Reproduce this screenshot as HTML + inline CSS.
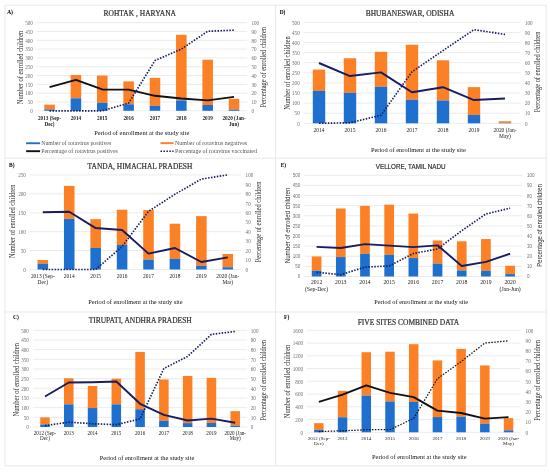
<!DOCTYPE html>
<html><head><meta charset="utf-8"><style>
html,body{margin:0;padding:0;background:#fff;width:550px;height:472px;overflow:hidden}
svg{display:block;will-change:transform;filter:blur(0.3px)}
</style></head><body>
<svg width="550" height="472" viewBox="0 0 550 472">
<rect width="550" height="472" fill="#fff"/>
<line x1="36.40" y1="110.80" x2="247.20" y2="110.80" stroke="#e6e6e6" stroke-width="0.8" />
<text x="32.90" y="113.04" font-size="5.1" fill="#707070" text-anchor="end" font-family='"Liberation Serif", serif'>0</text>
<line x1="36.40" y1="101.99" x2="247.20" y2="101.99" stroke="#e6e6e6" stroke-width="0.8" />
<text x="32.90" y="104.23" font-size="5.1" fill="#707070" text-anchor="end" font-family='"Liberation Serif", serif'>50</text>
<line x1="36.40" y1="93.17" x2="247.20" y2="93.17" stroke="#e6e6e6" stroke-width="0.8" />
<text x="32.90" y="95.42" font-size="5.1" fill="#707070" text-anchor="end" font-family='"Liberation Serif", serif'>100</text>
<line x1="36.40" y1="84.36" x2="247.20" y2="84.36" stroke="#e6e6e6" stroke-width="0.8" />
<text x="32.90" y="86.60" font-size="5.1" fill="#707070" text-anchor="end" font-family='"Liberation Serif", serif'>150</text>
<line x1="36.40" y1="75.54" x2="247.20" y2="75.54" stroke="#e6e6e6" stroke-width="0.8" />
<text x="32.90" y="77.79" font-size="5.1" fill="#707070" text-anchor="end" font-family='"Liberation Serif", serif'>200</text>
<line x1="36.40" y1="66.73" x2="247.20" y2="66.73" stroke="#e6e6e6" stroke-width="0.8" />
<text x="32.90" y="68.97" font-size="5.1" fill="#707070" text-anchor="end" font-family='"Liberation Serif", serif'>250</text>
<line x1="36.40" y1="57.92" x2="247.20" y2="57.92" stroke="#e6e6e6" stroke-width="0.8" />
<text x="32.90" y="60.16" font-size="5.1" fill="#707070" text-anchor="end" font-family='"Liberation Serif", serif'>300</text>
<line x1="36.40" y1="49.10" x2="247.20" y2="49.10" stroke="#e6e6e6" stroke-width="0.8" />
<text x="32.90" y="51.35" font-size="5.1" fill="#707070" text-anchor="end" font-family='"Liberation Serif", serif'>350</text>
<line x1="36.40" y1="40.29" x2="247.20" y2="40.29" stroke="#e6e6e6" stroke-width="0.8" />
<text x="32.90" y="42.53" font-size="5.1" fill="#707070" text-anchor="end" font-family='"Liberation Serif", serif'>400</text>
<line x1="36.40" y1="31.47" x2="247.20" y2="31.47" stroke="#e6e6e6" stroke-width="0.8" />
<text x="32.90" y="33.72" font-size="5.1" fill="#707070" text-anchor="end" font-family='"Liberation Serif", serif'>450</text>
<line x1="36.40" y1="22.66" x2="247.20" y2="22.66" stroke="#e6e6e6" stroke-width="0.8" />
<text x="32.90" y="24.90" font-size="5.1" fill="#707070" text-anchor="end" font-family='"Liberation Serif", serif'>500</text>
<text x="251.50" y="113.04" font-size="5.1" fill="#707070" text-anchor="start" font-family='"Liberation Serif", serif'>0</text>
<text x="251.50" y="104.23" font-size="5.1" fill="#707070" text-anchor="start" font-family='"Liberation Serif", serif'>10</text>
<text x="251.50" y="95.42" font-size="5.1" fill="#707070" text-anchor="start" font-family='"Liberation Serif", serif'>20</text>
<text x="251.50" y="86.60" font-size="5.1" fill="#707070" text-anchor="start" font-family='"Liberation Serif", serif'>30</text>
<text x="251.50" y="77.79" font-size="5.1" fill="#707070" text-anchor="start" font-family='"Liberation Serif", serif'>40</text>
<text x="251.50" y="68.97" font-size="5.1" fill="#707070" text-anchor="start" font-family='"Liberation Serif", serif'>50</text>
<text x="251.50" y="60.16" font-size="5.1" fill="#707070" text-anchor="start" font-family='"Liberation Serif", serif'>60</text>
<text x="251.50" y="51.35" font-size="5.1" fill="#707070" text-anchor="start" font-family='"Liberation Serif", serif'>70</text>
<text x="251.50" y="42.53" font-size="5.1" fill="#707070" text-anchor="start" font-family='"Liberation Serif", serif'>80</text>
<text x="251.50" y="33.72" font-size="5.1" fill="#707070" text-anchor="start" font-family='"Liberation Serif", serif'>90</text>
<text x="251.50" y="24.90" font-size="5.1" fill="#707070" text-anchor="start" font-family='"Liberation Serif", serif'>100</text>
<rect x="44.30" y="104.63" width="10.54" height="4.76" fill="#fb8026"/>
<rect x="44.30" y="109.39" width="10.54" height="1.41" fill="#1f6fcf"/>
<rect x="70.66" y="75.02" width="10.54" height="23.27" fill="#fb8026"/>
<rect x="70.66" y="98.28" width="10.54" height="12.52" fill="#1f6fcf"/>
<rect x="97.01" y="75.54" width="10.54" height="27.32" fill="#fb8026"/>
<rect x="97.01" y="102.87" width="10.54" height="7.93" fill="#1f6fcf"/>
<rect x="123.36" y="81.36" width="10.54" height="22.92" fill="#fb8026"/>
<rect x="123.36" y="104.28" width="10.54" height="6.52" fill="#1f6fcf"/>
<rect x="149.70" y="77.84" width="10.54" height="28.03" fill="#fb8026"/>
<rect x="149.70" y="105.86" width="10.54" height="4.94" fill="#1f6fcf"/>
<rect x="176.05" y="34.82" width="10.54" height="65.58" fill="#fb8026"/>
<rect x="176.05" y="100.40" width="10.54" height="10.40" fill="#1f6fcf"/>
<rect x="202.40" y="59.68" width="10.54" height="45.30" fill="#fb8026"/>
<rect x="202.40" y="104.98" width="10.54" height="5.82" fill="#1f6fcf"/>
<rect x="228.75" y="98.81" width="10.54" height="10.75" fill="#fb8026"/>
<rect x="228.75" y="109.57" width="10.54" height="1.23" fill="#1f6fcf"/>
<polyline points="49.57,87.18 75.92,79.95 102.28,89.47 128.62,89.65 154.97,95.82 181.32,98.46 207.67,100.40 234.02,96.87" fill="none" stroke="#111111" stroke-width="1.9" stroke-linejoin="round" />
<polyline points="49.57,110.80 75.92,110.80 102.28,110.80 128.62,103.13 154.97,60.56 181.32,49.10 207.67,31.30 234.02,30.15" fill="none" stroke="#161d60" stroke-width="1.65" stroke-linejoin="round" stroke-dasharray="1.5 1.45"/>
<text x="49.57" y="119.90" font-size="5.2" fill="#222222" text-anchor="middle" font-family='"Liberation Serif", serif' font-weight="bold">2013 (Sep-</text>
<text x="49.57" y="125.70" font-size="5.2" fill="#222222" text-anchor="middle" font-family='"Liberation Serif", serif' font-weight="bold">Dec)</text>
<text x="75.92" y="119.90" font-size="5.2" fill="#222222" text-anchor="middle" font-family='"Liberation Serif", serif' font-weight="bold">2014</text>
<text x="102.28" y="119.90" font-size="5.2" fill="#222222" text-anchor="middle" font-family='"Liberation Serif", serif' font-weight="bold">2015</text>
<text x="128.62" y="119.90" font-size="5.2" fill="#222222" text-anchor="middle" font-family='"Liberation Serif", serif' font-weight="bold">2016</text>
<text x="154.97" y="119.90" font-size="5.2" fill="#222222" text-anchor="middle" font-family='"Liberation Serif", serif' font-weight="bold">2017</text>
<text x="181.32" y="119.90" font-size="5.2" fill="#222222" text-anchor="middle" font-family='"Liberation Serif", serif' font-weight="bold">2018</text>
<text x="207.67" y="119.90" font-size="5.2" fill="#222222" text-anchor="middle" font-family='"Liberation Serif", serif' font-weight="bold">2019</text>
<text x="234.02" y="119.90" font-size="5.2" fill="#222222" text-anchor="middle" font-family='"Liberation Serif", serif' font-weight="bold">2020 (Jan-</text>
<text x="234.02" y="125.70" font-size="5.2" fill="#222222" text-anchor="middle" font-family='"Liberation Serif", serif' font-weight="bold">Jun)</text>
<text x="22.60" y="67.50" font-size="7.2" fill="#2a2a2a" text-anchor="middle" font-family='"Liberation Serif", serif' textLength="73.40" lengthAdjust="spacingAndGlyphs" transform="rotate(-90 22.60 67.50)">Number of enrolled children</text>
<text x="266.20" y="67.30" font-size="7.2" fill="#2a2a2a" text-anchor="middle" font-family='"Liberation Serif", serif' textLength="80.60" lengthAdjust="spacingAndGlyphs" transform="rotate(-90 266.20 67.30)">Percentage of enrolled children</text>
<text x="141.75" y="134.60" font-size="7.1" fill="#111111" text-anchor="middle" font-family='"Liberation Serif", serif' textLength="95.10" lengthAdjust="spacingAndGlyphs">Period of enrollment at the study site</text>
<text x="139.75" y="15.60" font-size="7.5" fill="#303030" text-anchor="middle" font-family='"Liberation Serif", serif' stroke="#303030" stroke-width="0.2" textLength="72.50" lengthAdjust="spacingAndGlyphs">ROHTAK , HARYANA</text>
<text x="6.90" y="13.70" font-size="5.8" fill="#000000" text-anchor="start" font-family='"Liberation Serif", serif' font-weight="bold">A)</text>
<line x1="303.50" y1="123.30" x2="520.50" y2="123.30" stroke="#e6e6e6" stroke-width="0.8" />
<text x="299.70" y="125.54" font-size="5.1" fill="#707070" text-anchor="end" font-family='"Liberation Serif", serif'>0</text>
<line x1="303.50" y1="113.20" x2="520.50" y2="113.20" stroke="#e6e6e6" stroke-width="0.8" />
<text x="299.70" y="115.44" font-size="5.1" fill="#707070" text-anchor="end" font-family='"Liberation Serif", serif'>50</text>
<line x1="303.50" y1="103.10" x2="520.50" y2="103.10" stroke="#e6e6e6" stroke-width="0.8" />
<text x="299.70" y="105.34" font-size="5.1" fill="#707070" text-anchor="end" font-family='"Liberation Serif", serif'>100</text>
<line x1="303.50" y1="93.00" x2="520.50" y2="93.00" stroke="#e6e6e6" stroke-width="0.8" />
<text x="299.70" y="95.24" font-size="5.1" fill="#707070" text-anchor="end" font-family='"Liberation Serif", serif'>150</text>
<line x1="303.50" y1="82.90" x2="520.50" y2="82.90" stroke="#e6e6e6" stroke-width="0.8" />
<text x="299.70" y="85.14" font-size="5.1" fill="#707070" text-anchor="end" font-family='"Liberation Serif", serif'>200</text>
<line x1="303.50" y1="72.80" x2="520.50" y2="72.80" stroke="#e6e6e6" stroke-width="0.8" />
<text x="299.70" y="75.04" font-size="5.1" fill="#707070" text-anchor="end" font-family='"Liberation Serif", serif'>250</text>
<line x1="303.50" y1="62.70" x2="520.50" y2="62.70" stroke="#e6e6e6" stroke-width="0.8" />
<text x="299.70" y="64.94" font-size="5.1" fill="#707070" text-anchor="end" font-family='"Liberation Serif", serif'>300</text>
<line x1="303.50" y1="52.60" x2="520.50" y2="52.60" stroke="#e6e6e6" stroke-width="0.8" />
<text x="299.70" y="54.84" font-size="5.1" fill="#707070" text-anchor="end" font-family='"Liberation Serif", serif'>350</text>
<line x1="303.50" y1="42.50" x2="520.50" y2="42.50" stroke="#e6e6e6" stroke-width="0.8" />
<text x="299.70" y="44.74" font-size="5.1" fill="#707070" text-anchor="end" font-family='"Liberation Serif", serif'>400</text>
<line x1="303.50" y1="32.40" x2="520.50" y2="32.40" stroke="#e6e6e6" stroke-width="0.8" />
<text x="299.70" y="34.64" font-size="5.1" fill="#707070" text-anchor="end" font-family='"Liberation Serif", serif'>450</text>
<line x1="303.50" y1="22.30" x2="520.50" y2="22.30" stroke="#e6e6e6" stroke-width="0.8" />
<text x="299.70" y="24.54" font-size="5.1" fill="#707070" text-anchor="end" font-family='"Liberation Serif", serif'>500</text>
<text x="525.00" y="125.54" font-size="5.1" fill="#707070" text-anchor="start" font-family='"Liberation Serif", serif'>0</text>
<text x="525.00" y="115.44" font-size="5.1" fill="#707070" text-anchor="start" font-family='"Liberation Serif", serif'>10</text>
<text x="525.00" y="105.34" font-size="5.1" fill="#707070" text-anchor="start" font-family='"Liberation Serif", serif'>20</text>
<text x="525.00" y="95.24" font-size="5.1" fill="#707070" text-anchor="start" font-family='"Liberation Serif", serif'>30</text>
<text x="525.00" y="85.14" font-size="5.1" fill="#707070" text-anchor="start" font-family='"Liberation Serif", serif'>40</text>
<text x="525.00" y="75.04" font-size="5.1" fill="#707070" text-anchor="start" font-family='"Liberation Serif", serif'>50</text>
<text x="525.00" y="64.94" font-size="5.1" fill="#707070" text-anchor="start" font-family='"Liberation Serif", serif'>60</text>
<text x="525.00" y="54.84" font-size="5.1" fill="#707070" text-anchor="start" font-family='"Liberation Serif", serif'>70</text>
<text x="525.00" y="44.74" font-size="5.1" fill="#707070" text-anchor="start" font-family='"Liberation Serif", serif'>80</text>
<text x="525.00" y="34.64" font-size="5.1" fill="#707070" text-anchor="start" font-family='"Liberation Serif", serif'>90</text>
<text x="525.00" y="24.54" font-size="5.1" fill="#707070" text-anchor="start" font-family='"Liberation Serif", serif'>100</text>
<rect x="312.80" y="69.57" width="12.40" height="21.41" fill="#fb8026"/>
<rect x="312.80" y="90.98" width="12.40" height="32.32" fill="#1f6fcf"/>
<rect x="343.80" y="58.26" width="12.40" height="34.54" fill="#fb8026"/>
<rect x="343.80" y="92.80" width="12.40" height="30.50" fill="#1f6fcf"/>
<rect x="374.80" y="51.79" width="12.40" height="34.95" fill="#fb8026"/>
<rect x="374.80" y="86.74" width="12.40" height="36.56" fill="#1f6fcf"/>
<rect x="405.80" y="44.72" width="12.40" height="54.94" fill="#fb8026"/>
<rect x="405.80" y="99.67" width="12.40" height="23.63" fill="#1f6fcf"/>
<rect x="436.80" y="60.28" width="12.40" height="40.20" fill="#fb8026"/>
<rect x="436.80" y="100.47" width="12.40" height="22.83" fill="#1f6fcf"/>
<rect x="467.80" y="87.14" width="12.40" height="27.88" fill="#fb8026"/>
<rect x="467.80" y="115.02" width="12.40" height="8.28" fill="#1f6fcf"/>
<rect x="498.80" y="121.28" width="12.40" height="1.62" fill="#fb8026"/>
<rect x="498.80" y="122.90" width="12.40" height="0.40" fill="#1f6fcf"/>
<polyline points="319.00,63.00 350.00,76.03 381.00,72.40 412.00,92.29 443.00,87.24 474.00,100.07 505.00,98.45" fill="none" stroke="#161d60" stroke-width="1.9" stroke-linejoin="round" />
<polyline points="319.00,123.30 350.00,122.80 381.00,115.22 412.00,71.79 443.00,50.58 474.00,29.67 505.00,34.42" fill="none" stroke="#161d60" stroke-width="1.65" stroke-linejoin="round" stroke-dasharray="1.5 1.45"/>
<text x="319.00" y="131.90" font-size="5.45" fill="#222222" text-anchor="middle" font-family='"Liberation Serif", serif'>2014</text>
<text x="350.00" y="131.90" font-size="5.45" fill="#222222" text-anchor="middle" font-family='"Liberation Serif", serif'>2015</text>
<text x="381.00" y="131.90" font-size="5.45" fill="#222222" text-anchor="middle" font-family='"Liberation Serif", serif'>2016</text>
<text x="412.00" y="131.90" font-size="5.45" fill="#222222" text-anchor="middle" font-family='"Liberation Serif", serif'>2017</text>
<text x="443.00" y="131.90" font-size="5.45" fill="#222222" text-anchor="middle" font-family='"Liberation Serif", serif'>2018</text>
<text x="474.00" y="131.90" font-size="5.45" fill="#222222" text-anchor="middle" font-family='"Liberation Serif", serif'>2019</text>
<text x="505.00" y="131.90" font-size="5.45" fill="#222222" text-anchor="middle" font-family='"Liberation Serif", serif'>2020 (Jan-</text>
<text x="505.00" y="137.70" font-size="5.45" fill="#222222" text-anchor="middle" font-family='"Liberation Serif", serif'>May)</text>
<text x="289.80" y="73.00" font-size="7.2" fill="#2a2a2a" text-anchor="middle" font-family='"Liberation Serif", serif' textLength="73.40" lengthAdjust="spacingAndGlyphs" transform="rotate(-90 289.80 73.00)">Number of enrolled children</text>
<text x="539.70" y="71.90" font-size="7.2" fill="#2a2a2a" text-anchor="middle" font-family='"Liberation Serif", serif' textLength="80.60" lengthAdjust="spacingAndGlyphs" transform="rotate(-90 539.70 71.90)">Percentage of enrolled children</text>
<text x="418.35" y="151.60" font-size="7.1" fill="#111111" text-anchor="middle" font-family='"Liberation Serif", serif' textLength="94.90" lengthAdjust="spacingAndGlyphs">Period of enrollment at the study site</text>
<text x="410.00" y="15.90" font-size="7.5" fill="#303030" text-anchor="middle" font-family='"Liberation Serif", serif' stroke="#303030" stroke-width="0.2" textLength="88.60" lengthAdjust="spacingAndGlyphs">BHUBANESWAR, ODISHA</text>
<text x="279.70" y="13.80" font-size="5.4" fill="#000000" text-anchor="start" font-family='"Liberation Serif", serif' font-weight="bold">D)</text>
<line x1="29.60" y1="269.50" x2="241.00" y2="269.50" stroke="#e6e6e6" stroke-width="0.8" />
<text x="25.80" y="271.74" font-size="5.1" fill="#707070" text-anchor="end" font-family='"Liberation Serif", serif'>0</text>
<line x1="29.60" y1="250.58" x2="241.00" y2="250.58" stroke="#e6e6e6" stroke-width="0.8" />
<text x="25.80" y="252.82" font-size="5.1" fill="#707070" text-anchor="end" font-family='"Liberation Serif", serif'>50</text>
<line x1="29.60" y1="231.66" x2="241.00" y2="231.66" stroke="#e6e6e6" stroke-width="0.8" />
<text x="25.80" y="233.90" font-size="5.1" fill="#707070" text-anchor="end" font-family='"Liberation Serif", serif'>100</text>
<line x1="29.60" y1="212.74" x2="241.00" y2="212.74" stroke="#e6e6e6" stroke-width="0.8" />
<text x="25.80" y="214.98" font-size="5.1" fill="#707070" text-anchor="end" font-family='"Liberation Serif", serif'>150</text>
<line x1="29.60" y1="193.82" x2="241.00" y2="193.82" stroke="#e6e6e6" stroke-width="0.8" />
<text x="25.80" y="196.06" font-size="5.1" fill="#707070" text-anchor="end" font-family='"Liberation Serif", serif'>200</text>
<line x1="29.60" y1="174.90" x2="241.00" y2="174.90" stroke="#e6e6e6" stroke-width="0.8" />
<text x="25.80" y="177.14" font-size="5.1" fill="#707070" text-anchor="end" font-family='"Liberation Serif", serif'>250</text>
<text x="245.60" y="271.74" font-size="5.1" fill="#707070" text-anchor="start" font-family='"Liberation Serif", serif'>0</text>
<text x="245.60" y="262.28" font-size="5.1" fill="#707070" text-anchor="start" font-family='"Liberation Serif", serif'>10</text>
<text x="245.60" y="252.82" font-size="5.1" fill="#707070" text-anchor="start" font-family='"Liberation Serif", serif'>20</text>
<text x="245.60" y="243.36" font-size="5.1" fill="#707070" text-anchor="start" font-family='"Liberation Serif", serif'>30</text>
<text x="245.60" y="233.90" font-size="5.1" fill="#707070" text-anchor="start" font-family='"Liberation Serif", serif'>40</text>
<text x="245.60" y="224.44" font-size="5.1" fill="#707070" text-anchor="start" font-family='"Liberation Serif", serif'>50</text>
<text x="245.60" y="214.98" font-size="5.1" fill="#707070" text-anchor="start" font-family='"Liberation Serif", serif'>60</text>
<text x="245.60" y="205.52" font-size="5.1" fill="#707070" text-anchor="start" font-family='"Liberation Serif", serif'>70</text>
<text x="245.60" y="196.06" font-size="5.1" fill="#707070" text-anchor="start" font-family='"Liberation Serif", serif'>80</text>
<text x="245.60" y="186.60" font-size="5.1" fill="#707070" text-anchor="start" font-family='"Liberation Serif", serif'>90</text>
<text x="245.60" y="177.14" font-size="5.1" fill="#707070" text-anchor="start" font-family='"Liberation Serif", serif'>100</text>
<rect x="37.53" y="260.04" width="10.57" height="3.78" fill="#fb8026"/>
<rect x="37.53" y="263.82" width="10.57" height="5.68" fill="#1f6fcf"/>
<rect x="63.95" y="185.87" width="10.57" height="32.92" fill="#fb8026"/>
<rect x="63.95" y="218.79" width="10.57" height="50.71" fill="#1f6fcf"/>
<rect x="90.38" y="219.17" width="10.57" height="28.76" fill="#fb8026"/>
<rect x="90.38" y="247.93" width="10.57" height="21.57" fill="#1f6fcf"/>
<rect x="116.80" y="209.71" width="10.57" height="35.19" fill="#fb8026"/>
<rect x="116.80" y="244.90" width="10.57" height="24.60" fill="#1f6fcf"/>
<rect x="143.23" y="210.09" width="10.57" height="49.57" fill="#fb8026"/>
<rect x="143.23" y="259.66" width="10.57" height="9.84" fill="#1f6fcf"/>
<rect x="169.65" y="223.71" width="10.57" height="35.19" fill="#fb8026"/>
<rect x="169.65" y="258.90" width="10.57" height="10.60" fill="#1f6fcf"/>
<rect x="196.08" y="216.15" width="10.57" height="49.57" fill="#fb8026"/>
<rect x="196.08" y="265.72" width="10.57" height="3.78" fill="#1f6fcf"/>
<rect x="222.50" y="253.99" width="10.57" height="13.24" fill="#fb8026"/>
<rect x="222.50" y="267.23" width="10.57" height="2.27" fill="#1f6fcf"/>
<polyline points="42.81,212.27 69.24,211.79 95.66,228.07 122.09,230.05 148.51,253.61 174.94,248.03 201.36,262.03 227.79,257.39" fill="none" stroke="#161d60" stroke-width="1.9" stroke-linejoin="round" />
<polyline points="42.81,269.50 69.24,269.50 95.66,269.50 122.09,246.51 148.51,211.32 174.94,194.29 201.36,179.06 227.79,174.90" fill="none" stroke="#161d60" stroke-width="1.65" stroke-linejoin="round" stroke-dasharray="1.5 1.45"/>
<text x="42.81" y="277.60" font-size="5.4" fill="#1a1a1a" text-anchor="middle" font-family='"Liberation Serif", serif'>2013 (Sep-</text>
<text x="42.81" y="283.80" font-size="5.4" fill="#1a1a1a" text-anchor="middle" font-family='"Liberation Serif", serif'>Dec)</text>
<text x="69.24" y="277.60" font-size="5.4" fill="#1a1a1a" text-anchor="middle" font-family='"Liberation Serif", serif'>2014</text>
<text x="95.66" y="277.60" font-size="5.4" fill="#1a1a1a" text-anchor="middle" font-family='"Liberation Serif", serif'>2015</text>
<text x="122.09" y="277.60" font-size="5.4" fill="#1a1a1a" text-anchor="middle" font-family='"Liberation Serif", serif'>2016</text>
<text x="148.51" y="277.60" font-size="5.4" fill="#1a1a1a" text-anchor="middle" font-family='"Liberation Serif", serif'>2017</text>
<text x="174.94" y="277.60" font-size="5.4" fill="#1a1a1a" text-anchor="middle" font-family='"Liberation Serif", serif'>2018</text>
<text x="201.36" y="277.60" font-size="5.4" fill="#1a1a1a" text-anchor="middle" font-family='"Liberation Serif", serif'>2019</text>
<text x="227.79" y="277.60" font-size="5.4" fill="#1a1a1a" text-anchor="middle" font-family='"Liberation Serif", serif'>2020 (Jan-</text>
<text x="227.79" y="283.80" font-size="5.4" fill="#1a1a1a" text-anchor="middle" font-family='"Liberation Serif", serif'>Mar)</text>
<text x="15.50" y="221.30" font-size="7.2" fill="#2a2a2a" text-anchor="middle" font-family='"Liberation Serif", serif' textLength="73.40" lengthAdjust="spacingAndGlyphs" transform="rotate(-90 15.50 221.30)">Number of enrolled children</text>
<text x="260.70" y="221.90" font-size="7.2" fill="#2a2a2a" text-anchor="middle" font-family='"Liberation Serif", serif' textLength="80.60" lengthAdjust="spacingAndGlyphs" transform="rotate(-90 260.70 221.90)">Percentage of enrolled children</text>
<text x="135.40" y="303.60" font-size="7.1" fill="#111111" text-anchor="middle" font-family='"Liberation Serif", serif' textLength="94.30" lengthAdjust="spacingAndGlyphs">Period of enrollment at the study site</text>
<text x="140.00" y="169.30" font-size="7.5" fill="#303030" text-anchor="middle" font-family='"Liberation Serif", serif' stroke="#303030" stroke-width="0.2" textLength="104.80" lengthAdjust="spacingAndGlyphs">TANDA, HIMACHAL PRADESH</text>
<text x="9.10" y="166.90" font-size="5.5" fill="#000000" text-anchor="start" font-family='"Liberation Serif", serif' font-weight="bold">B)</text>
<line x1="304.50" y1="276.50" x2="522.20" y2="276.50" stroke="#e6e6e6" stroke-width="0.8" />
<text x="300.20" y="278.48" font-size="4.5" fill="#707070" text-anchor="end" font-family='"Liberation Sans", sans-serif'>0</text>
<line x1="304.50" y1="266.38" x2="522.20" y2="266.38" stroke="#e6e6e6" stroke-width="0.8" />
<text x="300.20" y="268.36" font-size="4.5" fill="#707070" text-anchor="end" font-family='"Liberation Sans", sans-serif'>50</text>
<line x1="304.50" y1="256.26" x2="522.20" y2="256.26" stroke="#e6e6e6" stroke-width="0.8" />
<text x="300.20" y="258.24" font-size="4.5" fill="#707070" text-anchor="end" font-family='"Liberation Sans", sans-serif'>100</text>
<line x1="304.50" y1="246.14" x2="522.20" y2="246.14" stroke="#e6e6e6" stroke-width="0.8" />
<text x="300.20" y="248.12" font-size="4.5" fill="#707070" text-anchor="end" font-family='"Liberation Sans", sans-serif'>150</text>
<line x1="304.50" y1="236.02" x2="522.20" y2="236.02" stroke="#e6e6e6" stroke-width="0.8" />
<text x="300.20" y="238.00" font-size="4.5" fill="#707070" text-anchor="end" font-family='"Liberation Sans", sans-serif'>200</text>
<line x1="304.50" y1="225.90" x2="522.20" y2="225.90" stroke="#e6e6e6" stroke-width="0.8" />
<text x="300.20" y="227.88" font-size="4.5" fill="#707070" text-anchor="end" font-family='"Liberation Sans", sans-serif'>250</text>
<line x1="304.50" y1="215.78" x2="522.20" y2="215.78" stroke="#e6e6e6" stroke-width="0.8" />
<text x="300.20" y="217.76" font-size="4.5" fill="#707070" text-anchor="end" font-family='"Liberation Sans", sans-serif'>300</text>
<line x1="304.50" y1="205.66" x2="522.20" y2="205.66" stroke="#e6e6e6" stroke-width="0.8" />
<text x="300.20" y="207.64" font-size="4.5" fill="#707070" text-anchor="end" font-family='"Liberation Sans", sans-serif'>350</text>
<line x1="304.50" y1="195.54" x2="522.20" y2="195.54" stroke="#e6e6e6" stroke-width="0.8" />
<text x="300.20" y="197.52" font-size="4.5" fill="#707070" text-anchor="end" font-family='"Liberation Sans", sans-serif'>400</text>
<line x1="304.50" y1="185.42" x2="522.20" y2="185.42" stroke="#e6e6e6" stroke-width="0.8" />
<text x="300.20" y="187.40" font-size="4.5" fill="#707070" text-anchor="end" font-family='"Liberation Sans", sans-serif'>450</text>
<line x1="304.50" y1="175.30" x2="522.20" y2="175.30" stroke="#e6e6e6" stroke-width="0.8" />
<text x="300.20" y="177.28" font-size="4.5" fill="#707070" text-anchor="end" font-family='"Liberation Sans", sans-serif'>500</text>
<text x="527.00" y="278.48" font-size="4.5" fill="#707070" text-anchor="start" font-family='"Liberation Sans", sans-serif'>0</text>
<text x="527.00" y="268.36" font-size="4.5" fill="#707070" text-anchor="start" font-family='"Liberation Sans", sans-serif'>10</text>
<text x="527.00" y="258.24" font-size="4.5" fill="#707070" text-anchor="start" font-family='"Liberation Sans", sans-serif'>20</text>
<text x="527.00" y="248.12" font-size="4.5" fill="#707070" text-anchor="start" font-family='"Liberation Sans", sans-serif'>30</text>
<text x="527.00" y="238.00" font-size="4.5" fill="#707070" text-anchor="start" font-family='"Liberation Sans", sans-serif'>40</text>
<text x="527.00" y="227.88" font-size="4.5" fill="#707070" text-anchor="start" font-family='"Liberation Sans", sans-serif'>50</text>
<text x="527.00" y="217.76" font-size="4.5" fill="#707070" text-anchor="start" font-family='"Liberation Sans", sans-serif'>60</text>
<text x="527.00" y="207.64" font-size="4.5" fill="#707070" text-anchor="start" font-family='"Liberation Sans", sans-serif'>70</text>
<text x="527.00" y="197.52" font-size="4.5" fill="#707070" text-anchor="start" font-family='"Liberation Sans", sans-serif'>80</text>
<text x="527.00" y="187.40" font-size="4.5" fill="#707070" text-anchor="start" font-family='"Liberation Sans", sans-serif'>90</text>
<text x="527.00" y="177.28" font-size="4.5" fill="#707070" text-anchor="start" font-family='"Liberation Sans", sans-serif'>100</text>
<rect x="311.76" y="256.46" width="9.68" height="14.17" fill="#fb8026"/>
<rect x="311.76" y="270.63" width="9.68" height="5.87" fill="#1f6fcf"/>
<rect x="335.95" y="208.49" width="9.68" height="48.58" fill="#fb8026"/>
<rect x="335.95" y="257.07" width="9.68" height="19.43" fill="#1f6fcf"/>
<rect x="360.13" y="205.86" width="9.68" height="47.97" fill="#fb8026"/>
<rect x="360.13" y="253.83" width="9.68" height="22.67" fill="#1f6fcf"/>
<rect x="384.32" y="204.65" width="9.68" height="50.20" fill="#fb8026"/>
<rect x="384.32" y="254.84" width="9.68" height="21.66" fill="#1f6fcf"/>
<rect x="408.51" y="213.55" width="9.68" height="44.53" fill="#fb8026"/>
<rect x="408.51" y="258.08" width="9.68" height="18.42" fill="#1f6fcf"/>
<rect x="432.70" y="240.47" width="9.68" height="23.07" fill="#fb8026"/>
<rect x="432.70" y="263.55" width="9.68" height="12.95" fill="#1f6fcf"/>
<rect x="456.89" y="241.28" width="9.68" height="29.15" fill="#fb8026"/>
<rect x="456.89" y="270.43" width="9.68" height="6.07" fill="#1f6fcf"/>
<rect x="481.08" y="239.06" width="9.68" height="31.78" fill="#fb8026"/>
<rect x="481.08" y="270.83" width="9.68" height="5.67" fill="#1f6fcf"/>
<rect x="505.27" y="265.77" width="9.68" height="8.30" fill="#fb8026"/>
<rect x="505.27" y="274.07" width="9.68" height="2.43" fill="#1f6fcf"/>
<polyline points="316.59,246.85 340.78,248.06 364.97,244.12 389.16,245.63 413.35,247.15 437.54,245.33 461.73,265.98 485.92,261.93 510.11,253.73" fill="none" stroke="#161d60" stroke-width="1.9" stroke-linejoin="round" />
<polyline points="316.59,272.25 340.78,274.68 364.97,267.09 389.16,265.98 413.35,253.53 437.54,248.97 461.73,230.66 485.92,213.96 510.11,208.19" fill="none" stroke="#161d60" stroke-width="1.65" stroke-linejoin="round" stroke-dasharray="1.5 1.45"/>
<text x="316.59" y="284.40" font-size="5.7" fill="#1a1a1a" text-anchor="middle" font-family='"Liberation Serif", serif'>2012</text>
<text x="316.59" y="291.10" font-size="5.7" fill="#1a1a1a" text-anchor="middle" font-family='"Liberation Serif", serif'>(Sep-Dec)</text>
<text x="340.78" y="284.40" font-size="5.7" fill="#1a1a1a" text-anchor="middle" font-family='"Liberation Serif", serif'>2013</text>
<text x="364.97" y="284.40" font-size="5.7" fill="#1a1a1a" text-anchor="middle" font-family='"Liberation Serif", serif'>2014</text>
<text x="389.16" y="284.40" font-size="5.7" fill="#1a1a1a" text-anchor="middle" font-family='"Liberation Serif", serif'>2015</text>
<text x="413.35" y="284.40" font-size="5.7" fill="#1a1a1a" text-anchor="middle" font-family='"Liberation Serif", serif'>2016</text>
<text x="437.54" y="284.40" font-size="5.7" fill="#1a1a1a" text-anchor="middle" font-family='"Liberation Serif", serif'>2017</text>
<text x="461.73" y="284.40" font-size="5.7" fill="#1a1a1a" text-anchor="middle" font-family='"Liberation Serif", serif'>2018</text>
<text x="485.92" y="284.40" font-size="5.7" fill="#1a1a1a" text-anchor="middle" font-family='"Liberation Serif", serif'>2019</text>
<text x="510.11" y="284.40" font-size="5.7" fill="#1a1a1a" text-anchor="middle" font-family='"Liberation Serif", serif'>2020</text>
<text x="510.11" y="291.10" font-size="5.7" fill="#1a1a1a" text-anchor="middle" font-family='"Liberation Serif", serif'>(Jan-Jun)</text>
<text x="290.00" y="225.40" font-size="6.9" fill="#2a2a2a" text-anchor="middle" font-family='"Liberation Sans", sans-serif' textLength="75.70" lengthAdjust="spacingAndGlyphs" transform="rotate(-90 290.00 225.40)">Number of enrolled children</text>
<text x="542.00" y="225.40" font-size="6.9" fill="#2a2a2a" text-anchor="middle" font-family='"Liberation Sans", sans-serif' textLength="82.70" lengthAdjust="spacingAndGlyphs" transform="rotate(-90 542.00 225.40)">Percentage of enrolled children</text>
<text x="421.10" y="304.30" font-size="7.1" fill="#111111" text-anchor="middle" font-family='"Liberation Serif", serif' textLength="93.80" lengthAdjust="spacingAndGlyphs">Period of enrollment at the study site</text>
<text x="410.60" y="169.40" font-size="7.2" fill="#303030" text-anchor="middle" font-family='"Liberation Sans", sans-serif' stroke="#303030" stroke-width="0.2" textLength="69.70" lengthAdjust="spacingAndGlyphs">VELLORE, TAMIL NADU</text>
<text x="280.70" y="166.80" font-size="5.3" fill="#000000" text-anchor="start" font-family='"Liberation Serif", serif' font-weight="bold">E)</text>
<line x1="33.10" y1="427.00" x2="247.10" y2="427.00" stroke="#e6e6e6" stroke-width="0.8" />
<text x="28.80" y="429.24" font-size="5.1" fill="#707070" text-anchor="end" font-family='"Liberation Serif", serif'>0</text>
<line x1="33.10" y1="417.33" x2="247.10" y2="417.33" stroke="#e6e6e6" stroke-width="0.8" />
<text x="28.80" y="419.57" font-size="5.1" fill="#707070" text-anchor="end" font-family='"Liberation Serif", serif'>50</text>
<line x1="33.10" y1="407.66" x2="247.10" y2="407.66" stroke="#e6e6e6" stroke-width="0.8" />
<text x="28.80" y="409.90" font-size="5.1" fill="#707070" text-anchor="end" font-family='"Liberation Serif", serif'>100</text>
<line x1="33.10" y1="397.99" x2="247.10" y2="397.99" stroke="#e6e6e6" stroke-width="0.8" />
<text x="28.80" y="400.23" font-size="5.1" fill="#707070" text-anchor="end" font-family='"Liberation Serif", serif'>150</text>
<line x1="33.10" y1="388.32" x2="247.10" y2="388.32" stroke="#e6e6e6" stroke-width="0.8" />
<text x="28.80" y="390.56" font-size="5.1" fill="#707070" text-anchor="end" font-family='"Liberation Serif", serif'>200</text>
<line x1="33.10" y1="378.65" x2="247.10" y2="378.65" stroke="#e6e6e6" stroke-width="0.8" />
<text x="28.80" y="380.89" font-size="5.1" fill="#707070" text-anchor="end" font-family='"Liberation Serif", serif'>250</text>
<line x1="33.10" y1="368.98" x2="247.10" y2="368.98" stroke="#e6e6e6" stroke-width="0.8" />
<text x="28.80" y="371.22" font-size="5.1" fill="#707070" text-anchor="end" font-family='"Liberation Serif", serif'>300</text>
<line x1="33.10" y1="359.31" x2="247.10" y2="359.31" stroke="#e6e6e6" stroke-width="0.8" />
<text x="28.80" y="361.55" font-size="5.1" fill="#707070" text-anchor="end" font-family='"Liberation Serif", serif'>350</text>
<line x1="33.10" y1="349.64" x2="247.10" y2="349.64" stroke="#e6e6e6" stroke-width="0.8" />
<text x="28.80" y="351.88" font-size="5.1" fill="#707070" text-anchor="end" font-family='"Liberation Serif", serif'>400</text>
<line x1="33.10" y1="339.97" x2="247.10" y2="339.97" stroke="#e6e6e6" stroke-width="0.8" />
<text x="28.80" y="342.21" font-size="5.1" fill="#707070" text-anchor="end" font-family='"Liberation Serif", serif'>450</text>
<line x1="33.10" y1="330.30" x2="247.10" y2="330.30" stroke="#e6e6e6" stroke-width="0.8" />
<text x="28.80" y="332.54" font-size="5.1" fill="#707070" text-anchor="end" font-family='"Liberation Serif", serif'>500</text>
<text x="250.80" y="429.24" font-size="5.1" fill="#707070" text-anchor="start" font-family='"Liberation Serif", serif'>0</text>
<text x="250.80" y="419.57" font-size="5.1" fill="#707070" text-anchor="start" font-family='"Liberation Serif", serif'>10</text>
<text x="250.80" y="409.90" font-size="5.1" fill="#707070" text-anchor="start" font-family='"Liberation Serif", serif'>20</text>
<text x="250.80" y="400.23" font-size="5.1" fill="#707070" text-anchor="start" font-family='"Liberation Serif", serif'>30</text>
<text x="250.80" y="390.56" font-size="5.1" fill="#707070" text-anchor="start" font-family='"Liberation Serif", serif'>40</text>
<text x="250.80" y="380.89" font-size="5.1" fill="#707070" text-anchor="start" font-family='"Liberation Serif", serif'>50</text>
<text x="250.80" y="371.22" font-size="5.1" fill="#707070" text-anchor="start" font-family='"Liberation Serif", serif'>60</text>
<text x="250.80" y="361.55" font-size="5.1" fill="#707070" text-anchor="start" font-family='"Liberation Serif", serif'>70</text>
<text x="250.80" y="351.88" font-size="5.1" fill="#707070" text-anchor="start" font-family='"Liberation Serif", serif'>80</text>
<text x="250.80" y="342.21" font-size="5.1" fill="#707070" text-anchor="start" font-family='"Liberation Serif", serif'>90</text>
<text x="250.80" y="332.54" font-size="5.1" fill="#707070" text-anchor="start" font-family='"Liberation Serif", serif'>100</text>
<rect x="40.23" y="417.33" width="9.51" height="7.16" fill="#fb8026"/>
<rect x="40.23" y="424.49" width="9.51" height="2.51" fill="#1f6fcf"/>
<rect x="64.01" y="378.26" width="9.51" height="26.11" fill="#fb8026"/>
<rect x="64.01" y="404.37" width="9.51" height="22.63" fill="#1f6fcf"/>
<rect x="87.79" y="386.00" width="9.51" height="22.05" fill="#fb8026"/>
<rect x="87.79" y="408.05" width="9.51" height="18.95" fill="#1f6fcf"/>
<rect x="111.57" y="378.65" width="9.51" height="25.72" fill="#fb8026"/>
<rect x="111.57" y="404.37" width="9.51" height="22.63" fill="#1f6fcf"/>
<rect x="135.34" y="351.96" width="9.51" height="57.25" fill="#fb8026"/>
<rect x="135.34" y="409.21" width="9.51" height="17.79" fill="#1f6fcf"/>
<rect x="159.12" y="379.42" width="9.51" height="41.39" fill="#fb8026"/>
<rect x="159.12" y="420.81" width="9.51" height="6.19" fill="#1f6fcf"/>
<rect x="182.90" y="375.94" width="9.51" height="47.19" fill="#fb8026"/>
<rect x="182.90" y="423.13" width="9.51" height="3.87" fill="#1f6fcf"/>
<rect x="206.68" y="377.88" width="9.51" height="45.06" fill="#fb8026"/>
<rect x="206.68" y="422.94" width="9.51" height="4.06" fill="#1f6fcf"/>
<rect x="230.46" y="411.14" width="9.51" height="14.50" fill="#fb8026"/>
<rect x="230.46" y="425.65" width="9.51" height="1.35" fill="#1f6fcf"/>
<polyline points="44.99,396.54 68.77,382.52 92.54,382.23 116.32,381.55 140.10,403.79 163.88,414.82 187.66,420.52 211.43,418.59 235.21,422.75" fill="none" stroke="#161d60" stroke-width="1.9" stroke-linejoin="round" />
<polyline points="44.99,425.65 68.77,422.17 92.54,423.71 116.32,424.68 140.10,418.88 163.88,368.50 187.66,356.41 211.43,334.36 235.21,331.46" fill="none" stroke="#161d60" stroke-width="1.65" stroke-linejoin="round" stroke-dasharray="1.5 1.45"/>
<text x="44.99" y="434.60" font-size="5.1" fill="#1a1a1a" text-anchor="middle" font-family='"Liberation Serif", serif'>2012 (Sep-</text>
<text x="44.99" y="439.90" font-size="5.1" fill="#1a1a1a" text-anchor="middle" font-family='"Liberation Serif", serif'>Dec)</text>
<text x="68.77" y="434.60" font-size="5.1" fill="#1a1a1a" text-anchor="middle" font-family='"Liberation Serif", serif'>2013</text>
<text x="92.54" y="434.60" font-size="5.1" fill="#1a1a1a" text-anchor="middle" font-family='"Liberation Serif", serif'>2014</text>
<text x="116.32" y="434.60" font-size="5.1" fill="#1a1a1a" text-anchor="middle" font-family='"Liberation Serif", serif'>2015</text>
<text x="140.10" y="434.60" font-size="5.1" fill="#1a1a1a" text-anchor="middle" font-family='"Liberation Serif", serif'>2016</text>
<text x="163.88" y="434.60" font-size="5.1" fill="#1a1a1a" text-anchor="middle" font-family='"Liberation Serif", serif'>2017</text>
<text x="187.66" y="434.60" font-size="5.1" fill="#1a1a1a" text-anchor="middle" font-family='"Liberation Serif", serif'>2018</text>
<text x="211.43" y="434.60" font-size="5.1" fill="#1a1a1a" text-anchor="middle" font-family='"Liberation Serif", serif'>2019</text>
<text x="235.21" y="434.60" font-size="5.1" fill="#1a1a1a" text-anchor="middle" font-family='"Liberation Serif", serif'>2020 (Jan-</text>
<text x="235.21" y="439.90" font-size="5.1" fill="#1a1a1a" text-anchor="middle" font-family='"Liberation Serif", serif'>May)</text>
<text x="19.10" y="379.80" font-size="7.2" fill="#2a2a2a" text-anchor="middle" font-family='"Liberation Serif", serif' textLength="73.40" lengthAdjust="spacingAndGlyphs" transform="rotate(-90 19.10 379.80)">Number of enrolled children</text>
<text x="266.20" y="380.30" font-size="7.2" fill="#2a2a2a" text-anchor="middle" font-family='"Liberation Serif", serif' textLength="80.60" lengthAdjust="spacingAndGlyphs" transform="rotate(-90 266.20 380.30)">Percentage of enrolled children</text>
<text x="147.00" y="459.70" font-size="7.1" fill="#111111" text-anchor="middle" font-family='"Liberation Serif", serif' textLength="94.50" lengthAdjust="spacingAndGlyphs">Period of enrollment at the study site</text>
<text x="140.20" y="322.90" font-size="7.5" fill="#303030" text-anchor="middle" font-family='"Liberation Serif", serif' stroke="#303030" stroke-width="0.2" textLength="103.00" lengthAdjust="spacingAndGlyphs">TIRUPATI, ANDHRA PRADESH</text>
<text x="12.90" y="318.60" font-size="5.6" fill="#000000" text-anchor="start" font-family='"Liberation Serif", serif' font-weight="bold">C)</text>
<line x1="307.00" y1="432.30" x2="520.40" y2="432.30" stroke="#e6e6e6" stroke-width="0.8" />
<text x="303.00" y="434.54" font-size="5.1" fill="#707070" text-anchor="end" font-family='"Liberation Serif", serif'>0</text>
<line x1="307.00" y1="419.55" x2="520.40" y2="419.55" stroke="#e6e6e6" stroke-width="0.8" />
<text x="303.00" y="421.79" font-size="5.1" fill="#707070" text-anchor="end" font-family='"Liberation Serif", serif'>200</text>
<line x1="307.00" y1="406.80" x2="520.40" y2="406.80" stroke="#e6e6e6" stroke-width="0.8" />
<text x="303.00" y="409.04" font-size="5.1" fill="#707070" text-anchor="end" font-family='"Liberation Serif", serif'>400</text>
<line x1="307.00" y1="394.05" x2="520.40" y2="394.05" stroke="#e6e6e6" stroke-width="0.8" />
<text x="303.00" y="396.29" font-size="5.1" fill="#707070" text-anchor="end" font-family='"Liberation Serif", serif'>600</text>
<line x1="307.00" y1="381.30" x2="520.40" y2="381.30" stroke="#e6e6e6" stroke-width="0.8" />
<text x="303.00" y="383.54" font-size="5.1" fill="#707070" text-anchor="end" font-family='"Liberation Serif", serif'>800</text>
<line x1="307.00" y1="368.55" x2="520.40" y2="368.55" stroke="#e6e6e6" stroke-width="0.8" />
<text x="303.00" y="370.79" font-size="5.1" fill="#707070" text-anchor="end" font-family='"Liberation Serif", serif'>1000</text>
<line x1="307.00" y1="355.80" x2="520.40" y2="355.80" stroke="#e6e6e6" stroke-width="0.8" />
<text x="303.00" y="358.04" font-size="5.1" fill="#707070" text-anchor="end" font-family='"Liberation Serif", serif'>1200</text>
<line x1="307.00" y1="343.05" x2="520.40" y2="343.05" stroke="#e6e6e6" stroke-width="0.8" />
<text x="303.00" y="345.29" font-size="5.1" fill="#707070" text-anchor="end" font-family='"Liberation Serif", serif'>1400</text>
<line x1="307.00" y1="330.30" x2="520.40" y2="330.30" stroke="#e6e6e6" stroke-width="0.8" />
<text x="303.00" y="332.54" font-size="5.1" fill="#707070" text-anchor="end" font-family='"Liberation Serif", serif'>1600</text>
<text x="525.60" y="434.54" font-size="5.1" fill="#707070" text-anchor="start" font-family='"Liberation Serif", serif'>0</text>
<text x="525.60" y="424.34" font-size="5.1" fill="#707070" text-anchor="start" font-family='"Liberation Serif", serif'>10</text>
<text x="525.60" y="414.14" font-size="5.1" fill="#707070" text-anchor="start" font-family='"Liberation Serif", serif'>20</text>
<text x="525.60" y="403.94" font-size="5.1" fill="#707070" text-anchor="start" font-family='"Liberation Serif", serif'>30</text>
<text x="525.60" y="393.74" font-size="5.1" fill="#707070" text-anchor="start" font-family='"Liberation Serif", serif'>40</text>
<text x="525.60" y="383.54" font-size="5.1" fill="#707070" text-anchor="start" font-family='"Liberation Serif", serif'>50</text>
<text x="525.60" y="373.34" font-size="5.1" fill="#707070" text-anchor="start" font-family='"Liberation Serif", serif'>60</text>
<text x="525.60" y="363.14" font-size="5.1" fill="#707070" text-anchor="start" font-family='"Liberation Serif", serif'>70</text>
<text x="525.60" y="352.94" font-size="5.1" fill="#707070" text-anchor="start" font-family='"Liberation Serif", serif'>80</text>
<text x="525.60" y="342.74" font-size="5.1" fill="#707070" text-anchor="start" font-family='"Liberation Serif", serif'>90</text>
<text x="525.60" y="332.54" font-size="5.1" fill="#707070" text-anchor="start" font-family='"Liberation Serif", serif'>100</text>
<rect x="314.11" y="423.18" width="9.48" height="6.57" fill="#fb8026"/>
<rect x="314.11" y="429.75" width="9.48" height="2.55" fill="#1f6fcf"/>
<rect x="337.82" y="390.86" width="9.48" height="26.39" fill="#fb8026"/>
<rect x="337.82" y="417.25" width="9.48" height="15.05" fill="#1f6fcf"/>
<rect x="361.54" y="352.23" width="9.48" height="43.35" fill="#fb8026"/>
<rect x="361.54" y="395.58" width="9.48" height="36.72" fill="#1f6fcf"/>
<rect x="385.25" y="351.72" width="9.48" height="49.72" fill="#fb8026"/>
<rect x="385.25" y="401.44" width="9.48" height="30.86" fill="#1f6fcf"/>
<rect x="408.96" y="344.20" width="9.48" height="57.76" fill="#fb8026"/>
<rect x="408.96" y="401.96" width="9.48" height="30.34" fill="#1f6fcf"/>
<rect x="432.67" y="360.39" width="9.48" height="56.67" fill="#fb8026"/>
<rect x="432.67" y="417.06" width="9.48" height="15.24" fill="#1f6fcf"/>
<rect x="456.38" y="348.92" width="9.48" height="67.70" fill="#fb8026"/>
<rect x="456.38" y="416.62" width="9.48" height="15.68" fill="#1f6fcf"/>
<rect x="480.09" y="365.43" width="9.48" height="58.27" fill="#fb8026"/>
<rect x="480.09" y="423.69" width="9.48" height="8.61" fill="#1f6fcf"/>
<rect x="503.80" y="418.15" width="9.48" height="12.18" fill="#fb8026"/>
<rect x="503.80" y="430.32" width="9.48" height="1.98" fill="#1f6fcf"/>
<polyline points="318.86,401.80 342.57,394.66 366.28,385.38 389.99,392.93 413.70,397.11 437.41,410.57 461.12,413.02 484.83,418.63 508.54,417.10" fill="none" stroke="#111111" stroke-width="1.9" stroke-linejoin="round" />
<polyline points="318.86,431.59 342.57,430.77 366.28,429.75 389.99,429.55 413.70,418.43 437.41,378.75 461.12,361.61 484.83,343.05 508.54,340.81" fill="none" stroke="#111111" stroke-width="1.25" stroke-linejoin="round" stroke-dasharray="1.5 1.45"/>
<text x="318.86" y="439.60" font-size="5.0" fill="#222222" text-anchor="middle" font-family='"Liberation Serif", serif'>2012 (Sep-</text>
<text x="318.86" y="445.10" font-size="5.0" fill="#222222" text-anchor="middle" font-family='"Liberation Serif", serif'>Dec)</text>
<text x="342.57" y="439.60" font-size="5.0" fill="#222222" text-anchor="middle" font-family='"Liberation Serif", serif'>2013</text>
<text x="366.28" y="439.60" font-size="5.0" fill="#222222" text-anchor="middle" font-family='"Liberation Serif", serif'>2014</text>
<text x="389.99" y="439.60" font-size="5.0" fill="#222222" text-anchor="middle" font-family='"Liberation Serif", serif'>2015</text>
<text x="413.70" y="439.60" font-size="5.0" fill="#222222" text-anchor="middle" font-family='"Liberation Serif", serif'>2016</text>
<text x="437.41" y="439.60" font-size="5.0" fill="#222222" text-anchor="middle" font-family='"Liberation Serif", serif'>2017</text>
<text x="461.12" y="439.60" font-size="5.0" fill="#222222" text-anchor="middle" font-family='"Liberation Serif", serif'>2018</text>
<text x="484.83" y="439.60" font-size="5.0" fill="#222222" text-anchor="middle" font-family='"Liberation Serif", serif'>2019</text>
<text x="508.54" y="439.60" font-size="5.0" fill="#222222" text-anchor="middle" font-family='"Liberation Serif", serif'>2020 (Jan-</text>
<text x="508.54" y="445.10" font-size="5.0" fill="#222222" text-anchor="middle" font-family='"Liberation Serif", serif'>May)</text>
<text x="290.20" y="381.50" font-size="7.2" fill="#2a2a2a" text-anchor="middle" font-family='"Liberation Serif", serif' textLength="73.40" lengthAdjust="spacingAndGlyphs" transform="rotate(-90 290.20 381.50)">Number of enrolled children</text>
<text x="540.20" y="380.40" font-size="7.2" fill="#2a2a2a" text-anchor="middle" font-family='"Liberation Serif", serif' textLength="80.60" lengthAdjust="spacingAndGlyphs" transform="rotate(-90 540.20 380.40)">Percentage of enrolled children</text>
<text x="419.30" y="459.30" font-size="7.1" fill="#111111" text-anchor="middle" font-family='"Liberation Serif", serif' textLength="94.50" lengthAdjust="spacingAndGlyphs">Period of enrollment at the study site</text>
<text x="408.40" y="325.10" font-size="7.5" fill="#303030" text-anchor="middle" font-family='"Liberation Serif", serif' stroke="#303030" stroke-width="0.2" textLength="101.50" lengthAdjust="spacingAndGlyphs">FIVE SITES COMBINED DATA</text>
<text x="284.10" y="318.50" font-size="5.6" fill="#000000" text-anchor="start" font-family='"Liberation Serif", serif' font-weight="bold">F)</text>
<rect x="26.10" y="142.30" width="14.00" height="1.90" fill="#1f6fcf"/>
<text x="41.20" y="145.10" font-size="5.9" fill="#555555" text-anchor="start" font-family='"Liberation Serif", serif' textLength="70.00" lengthAdjust="spacingAndGlyphs">Number of rotavirus positives</text>
<rect x="160.50" y="142.20" width="13.10" height="1.90" fill="#fb8026"/>
<text x="175.10" y="145.10" font-size="5.9" fill="#555555" text-anchor="start" font-family='"Liberation Serif", serif' textLength="72.00" lengthAdjust="spacingAndGlyphs">Number of rotavirus negatives</text>
<line x1="26.10" y1="151.20" x2="40.10" y2="151.20" stroke="#111111" stroke-width="1.9" />
<text x="41.20" y="153.30" font-size="5.9" fill="#555555" text-anchor="start" font-family='"Liberation Serif", serif' textLength="76.60" lengthAdjust="spacingAndGlyphs">Percentage of rotavirus positives</text>
<line x1="160.50" y1="151.20" x2="173.60" y2="151.20" stroke="#161d60" stroke-width="1.65" stroke-dasharray="1.5 1.45"/>
<text x="175.10" y="153.30" font-size="5.9" fill="#555555" text-anchor="start" font-family='"Liberation Serif", serif' textLength="81.80" lengthAdjust="spacingAndGlyphs">Percentage of rotavirus vaccinated</text>
<line x1="5.00" y1="5.00" x2="5.00" y2="465.80" stroke="#e8e8e8" stroke-width="1" />
<line x1="275.50" y1="5.00" x2="275.50" y2="465.80" stroke="#e8e8e8" stroke-width="1" />
<line x1="546.20" y1="5.00" x2="546.20" y2="465.80" stroke="#e8e8e8" stroke-width="1" />
<line x1="5.00" y1="5.20" x2="546.20" y2="5.20" stroke="#e8e8e8" stroke-width="1" />
<line x1="5.00" y1="158.20" x2="546.20" y2="158.20" stroke="#e8e8e8" stroke-width="1" />
<line x1="5.00" y1="312.00" x2="546.20" y2="312.00" stroke="#e8e8e8" stroke-width="1" />
<line x1="5.00" y1="465.80" x2="546.20" y2="465.80" stroke="#e8e8e8" stroke-width="1" />
</svg>
</body></html>
